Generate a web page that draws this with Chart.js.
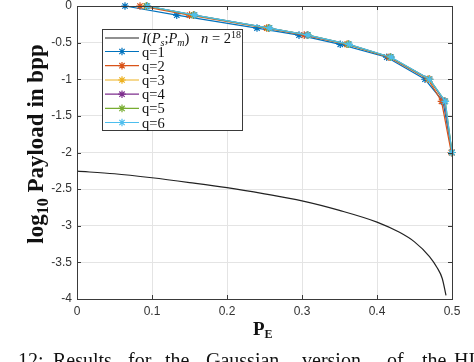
<!DOCTYPE html>
<html><head><meta charset="utf-8">
<script src="https://cdn.jsdelivr.net/npm/chart.js@4/dist/chart.umd.min.js"></script>
<style>
html,body{margin:0;padding:0;background:#fff;overflow:hidden;width:474px;height:362px;}
#wrap{position:absolute;left:0;top:0;width:474px;height:362px;}
#cap{position:absolute;top:350px;left:0;width:474px;height:20px;font-family:"Liberation Serif",serif;font-size:20px;line-height:20px;color:#111;white-space:nowrap;overflow:hidden;}
#cap span{position:absolute;top:0;}
</style></head><body>
<div id="wrap"><canvas id="c"></canvas></div>
<div id="cap"></div>
<script>
// ---- data ----
const yPayload = [0, -0.125, -0.301, -0.398, -0.523, -0.699, -1, -1.301, -2];
const xQ1 = [0.064, 0.133, 0.240, 0.296, 0.351, 0.413, 0.464, 0.488, 0.500];
const xQ2 = [0.084, 0.150, 0.253, 0.303, 0.360, 0.416, 0.468, 0.486, 0.499];
const xQ3 = [0.092, 0.155, 0.255, 0.307, 0.361, 0.418, 0.469, 0.490, 0.500];
const xQ4 = [0.093, 0.156, 0.256, 0.307, 0.362, 0.418, 0.470, 0.490, 0.500];
const xQ5 = [0.093, 0.156, 0.256, 0.308, 0.362, 0.418, 0.470, 0.491, 0.500];
const xQ6 = [0.094, 0.157, 0.257, 0.308, 0.363, 0.419, 0.470, 0.491, 0.500];
const xCurve = [0, 0.05, 0.1, 0.15, 0.2, 0.25, 0.3, 0.35, 0.4, 0.43, 0.45, 0.47, 0.48, 0.487, 0.492];
const yCurve = [-2.255, -2.29, -2.345, -2.41, -2.48, -2.565, -2.66, -2.79, -2.95, -3.09, -3.22, -3.42, -3.57, -3.72, -3.95];
const qLabels = ['q=1', 'q=2', 'q=3', 'q=4', 'q=5', 'q=6'];
const qColors = ['#0072BD', '#D95319', '#EDB120', '#7E2F8E', '#77AC30', '#4DBEEE'];
const xTicks = [0, 0.1, 0.2, 0.3, 0.4, 0.5];
const yTicks = [0, -0.5, -1, -1.5, -2, -2.5, -3, -3.5, -4];
const captionWords = [['12:', 18], ['Results', 53], ['for', 128], ['the', 165], ['Gaussian', 206], ['version', 302], ['of', 387], ['the', 422], ['HILL', 454]];

const cap = document.getElementById('cap');
captionWords.forEach(([w, x]) => { const s = document.createElement('span'); s.textContent = w; s.style.left = x + 'px'; cap.appendChild(s); });

const qX = [xQ1, xQ2, xQ3, xQ4, xQ5, xQ6];
const datasets = [{
  label: 'I(Ps;Pm)',
  data: xCurve.map((x, i) => ({x, y: yCurve[i]})),
  borderColor: '#222', borderWidth: 1.2, pointRadius: 0, cubicInterpolationMode: 'monotone', order: 7, clip: false
}];
qX.forEach((xs, k) => datasets.push({
  label: qLabels[k],
  data: xs.map((x, i) => ({x, y: yPayload[i]})),
  borderColor: qColors[k], backgroundColor: qColors[k], borderWidth: 1.2,
  pointStyle: 'star', pointRadius: 3.8, pointBorderWidth: 1.2, pointBorderColor: qColors[k],
  order: 6 - k, clip: false
}));

const PL = {left: 77, right: 452, top: 6, bottom: 299};
const AX = '#3a3a3a';

function drawStar(ctx, x, y, r) {
  ctx.beginPath();
  for (let a = 0; a < 4; a++) {
    const t = a * Math.PI / 4;
    ctx.moveTo(x - r * Math.cos(t), y - r * Math.sin(t));
    ctx.lineTo(x + r * Math.cos(t), y + r * Math.sin(t));
  }
  ctx.stroke();
}
function drawRuns(ctx, x, y, runs) {
  let cx = x;
  runs.forEach(([t, f, dy]) => { ctx.font = f; ctx.fillText(t, cx, y + (dy || 0)); cx += ctx.measureText(t).width; });
  return cx;
}
function runsWidth(ctx, runs) { let w = 0; runs.forEach(([t, f]) => { ctx.font = f; w += ctx.measureText(t).width; }); return w; }

const deco = {
  id: 'deco',
  afterDatasetsDraw(chart) {
    const ctx = chart.ctx, a = chart.chartArea, xs = chart.scales.x, ys = chart.scales.y;
    ctx.save();
    ctx.strokeStyle = AX; ctx.lineWidth = 1;
    ctx.strokeRect(Math.round(a.left) + 0.5, Math.round(a.top) + 0.5, Math.round(a.right - a.left), Math.round(a.bottom - a.top));
    ctx.beginPath();
    xTicks.forEach(v => { const p = Math.round(xs.getPixelForValue(v)) + 0.5; ctx.moveTo(p, a.bottom); ctx.lineTo(p, a.bottom - 4); ctx.moveTo(p, a.top); ctx.lineTo(p, a.top + 4); });
    yTicks.forEach(v => { const p = Math.round(ys.getPixelForValue(v)) + 0.5; ctx.moveTo(a.left, p); ctx.lineTo(a.left + 4, p); ctx.moveTo(a.right, p); ctx.lineTo(a.right - 4, p); });
    ctx.stroke();
    ctx.restore();
  },
  afterDraw(chart) {
    const ctx = chart.ctx;
    ctx.save();
    ctx.fillStyle = '#111';
    ctx.textBaseline = 'alphabetic';
    // y title
    const B = 'bold 23px "Liberation Serif", serif', BS = 'bold 16px "Liberation Serif", serif';
    const yruns = [['log', B, 0], ['10', BS, 5], [' Payload in bpp', B, 0]];
    const w = runsWidth(ctx, yruns);
    ctx.save();
    ctx.translate(43, 144);
    ctx.rotate(-Math.PI / 2);
    drawRuns(ctx, -w / 2, 0, yruns);
    ctx.restore();
    // x title
    drawRuns(ctx, 253, 335, [['P', 'bold 19px "Liberation Serif", serif', 0], ['E', 'bold 12px "Liberation Serif", serif', 3]]);
    // legend
    const L = {l: 102, t: 29, r: 242, b: 130};
    ctx.fillStyle = '#fff';
    ctx.fillRect(L.l, L.t, L.r - L.l, L.b - L.t);
    ctx.strokeStyle = AX; ctx.lineWidth = 1;
    ctx.strokeRect(L.l + 0.5, L.t + 0.5, L.r - L.l, L.b - L.t);
    const rows = [38, 51.5, 65.7, 80, 94.2, 108.4, 122.5];
    const I = 'italic 14.5px "Liberation Serif", serif', R = '14.5px "Liberation Serif", serif', IS = 'italic 10px "Liberation Serif", serif', RS = '10px "Liberation Serif", serif';
    ctx.strokeStyle = '#222'; ctx.lineWidth = 1.2;
    ctx.beginPath(); ctx.moveTo(105, rows[0]); ctx.lineTo(139, rows[0]); ctx.stroke();
    ctx.fillStyle = '#111';
    drawRuns(ctx, 142, rows[0] + 5, [['I', I, 0], ['(', R, 0], ['P', I, 0], ['s', IS, 2.5], [';', R, 0], ['P', I, 0], ['m', IS, 2.5], [')', R, 0]]);
    drawRuns(ctx, 201, rows[0] + 5, [['n', I, 0], [' = 2', R, 0], ['18', RS, -5.5]]);
    qLabels.forEach((lab, k) => {
      const y = rows[k + 1];
      ctx.strokeStyle = qColors[k]; ctx.lineWidth = 1.2;
      ctx.beginPath(); ctx.moveTo(105, y); ctx.lineTo(139, y); ctx.stroke();
      drawStar(ctx, 122, y, 3.8);
      ctx.fillStyle = '#111';
      ctx.font = R;
      ctx.fillText(lab, 142, y + 5);
    });
    ctx.restore();
  }
};

const tickFont = {family: '"Liberation Sans", Arial, sans-serif', size: 12, lineHeight: 1.0};
new Chart(document.getElementById('c'), {
  type: 'line',
  data: {datasets},
  options: {
    responsive: true, maintainAspectRatio: false, animation: false,
    layout: {padding: {left: 0, right: 474 - PL.right, top: PL.top, bottom: 0}},
    plugins: {legend: {display: false}, tooltip: {enabled: false}},
    elements: {line: {tension: 0}},
    scales: {
      x: {
        type: 'linear', min: 0, max: 0.5,
        afterBuildTicks: s => { s.ticks = xTicks.map(v => ({value: v})); },
        afterFit: s => { s.height = 362 - PL.bottom; s.paddingLeft = 0; s.paddingRight = 0; },
        grid: {color: '#e4e4e4', drawTicks: false, lineWidth: 1},
        border: {display: false},
        ticks: {padding: 7, color: '#333', font: tickFont, maxRotation: 0,
          callback: v => String(+v.toFixed(1))}
      },
      y: {
        type: 'linear', min: -4, max: 0,
        afterBuildTicks: s => { s.ticks = yTicks.map(v => ({value: v})); },
        afterFit: s => { s.width = PL.left; s.paddingTop = 0; s.paddingBottom = 0; },
        grid: {color: '#e4e4e4', drawTicks: false, lineWidth: 1},
        border: {display: false},
        ticks: {padding: 5, color: '#333', font: tickFont,
          callback: v => String(+v.toFixed(1))}
      }
    }
  },
  plugins: [deco]
});
</script>
</body></html>
